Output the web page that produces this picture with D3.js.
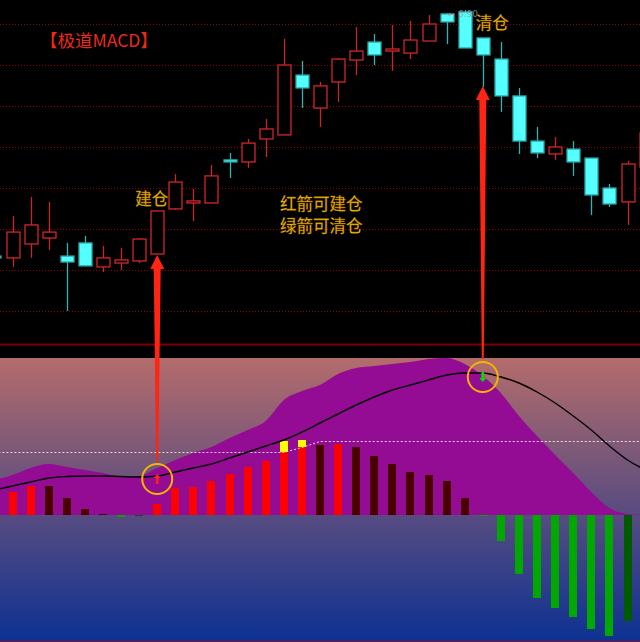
<!DOCTYPE html>
<html><head><meta charset="utf-8">
<script src="https://cdn.jsdelivr.net/npm/d3@7"></script>
<style>html,body{margin:0;padding:0;background:#000;overflow:hidden}svg{display:block}</style>
</head><body><svg id="c" width="640" height="642"></svg>
<script>
// ---- data (index -1 .. 35) ----
const barIndex = d3.range(-1, 36);
const openP  = [5.668,5.659,5.727,5.756,5.668,5.732,5.615,5.634,5.644,5.678,5.898,5.927,5.927,6.137,6.127,6.239,6.259,6.551,6.390,6.517,6.624,6.712,6.668,6.658,6.717,6.849,6.859,6.732,6.629,6.449,6.229,6.166,6.190,6.146,6.000,5.932,6.102];
const closeP = [5.659,5.785,5.820,5.785,5.639,5.620,5.659,5.649,5.751,5.888,6.029,5.937,6.059,6.127,6.219,6.288,6.600,6.488,6.498,6.629,6.668,6.649,6.678,6.722,6.800,6.810,6.683,6.649,6.449,6.229,6.171,6.200,6.127,5.966,5.922,6.117,6.268];
const highP  = [5.698,5.863,5.956,5.932,5.732,5.766,5.717,5.707,5.756,5.888,6.068,5.995,6.112,6.171,6.239,6.337,6.727,6.620,6.517,6.634,6.785,6.751,6.795,6.815,6.844,6.854,6.868,6.732,6.712,6.488,6.298,6.249,6.229,6.146,6.020,6.132,6.332];
const lowP   = [5.639,5.615,5.659,5.698,5.400,5.620,5.590,5.600,5.634,5.678,5.893,5.839,5.927,6.049,6.098,6.151,6.259,6.390,6.298,6.420,6.551,6.600,6.571,6.629,6.717,6.702,6.683,6.493,6.371,6.166,6.146,6.137,6.059,5.868,5.907,5.820,6.063];
const gridPrices = [6.8, 6.6, 6.4, 6.2, 6.0, 5.8, 5.6, 5.4];
const maxPriceLabel = "6.90";

const histValues = [0.021,0.023,0.029,0.029,0.017,0.006,0.001,-0.002,-0.001,0.011,0.027,0.028,0.034,0.041,0.048,0.054,0.074,0.075,0.070,0.071,0.068,0.059,0.051,0.043,0.040,0.034,0.017,-0.001,-0.026,-0.059,-0.083,-0.093,-0.102,-0.114,-0.121,-0.106,-0.095];
const thresholdLine = [0.063,0.063,0.063,0.063,0.063,0.063,0.063,0.063,0.063,0.063,0.063,0.063,0.063,0.063,0.063,0.063,0.063,0.068,0.074,0.074,0.074,0.074,0.074,0.074,0.074,0.074,0.074,0.074,0.074,0.074,0.074,0.074,0.074,0.074,0.074,0.074,0.074];
const signalLine = [0.025,0.029,0.033,0.037,0.0385,0.039,0.039,0.0385,0.038,0.039,0.043,0.047,0.051,0.057,0.063,0.069,0.075,0.083,0.092,0.101,0.110,0.118,0.125,0.130,0.135,0.140,0.142,0.142,0.138,0.132,0.123,0.112,0.099,0.085,0.069,0.055,0.045];
const purpleArea = [0.035,0.040,0.047,0.051,0.048,0.045,0.042,0.038,0.039,0.047,0.055,0.062,0.068,0.077,0.085,0.094,0.115,0.124,0.130,0.141,0.147,0.149,0.151,0.153,0.156,0.157,0.151,0.139,0.122,0.099,0.079,0.060,0.042,0.023,0.007,0.001,0.000];

const buyIndex = 8, sellIndex = 26;
const titleText = "【极道MACD】";
const buyText = "建仓", sellText = "清仓";
const noteLines = ["红箭可建仓", "绿箭可清仓"];

// ---- scales ----
const W = 640, H = 642;
const x = d3.scaleLinear().domain([0, 34]).range([12.5, 627.5]);
const yP = d3.scaleLinear().domain([5.4, 6.8]).range([311, 24]);
const yM = d3.scaleLinear().domain([0, 0.1]).range([515, 415]);
const topPanel = [0, 345], lowPanel = [358, 642];

const svg = d3.select("#c");
const defs = svg.append("defs");
const grad = defs.append("linearGradient").attr("id","bg").attr("x1",0).attr("x2",0).attr("y1",0).attr("y2",1);
grad.append("stop").attr("offset","0%").attr("stop-color","#b46c6b");
grad.append("stop").attr("offset","100%").attr("stop-color","#0c3192");
defs.append("clipPath").attr("id","clipTop").append("rect").attr("x",0).attr("y",0).attr("width",W).attr("height",topPanel[1]);
defs.append("clipPath").attr("id","clipLow").append("rect").attr("x",0).attr("y",lowPanel[0]).attr("width",W).attr("height",lowPanel[1]-lowPanel[0]);

svg.append("rect").attr("width",W).attr("height",H).attr("fill","#000");

// ---- top panel ----
const topG = svg.append("g").attr("clip-path","url(#clipTop)");
topG.selectAll("line.grid").data(gridPrices).join("line")
  .attr("x1",0).attr("x2",W).attr("y1",d=>Math.round(yP(d))+0.5).attr("y2",d=>Math.round(yP(d))+0.5)
  .attr("stroke","#9a0000").attr("stroke-dasharray","1,2");

const candles = barIndex.map((i,k)=>({i, o:openP[k], c:closeP[k], h:highP[k], l:lowP[k]}));
const up = d => d.c >= d.o;
const cg = topG.selectAll("g.candle").data(candles).join("g");
cg.append("line")
  .attr("x1",d=>Math.round(x(d.i))+0.5).attr("x2",d=>Math.round(x(d.i))+0.5)
  .attr("y1",d=>yP(d.h)).attr("y2",d=>yP(d.l))
  .attr("stroke",d=>up(d)?"#c8262a":"#2fb3b3").attr("stroke-width",1.3);
cg.append("rect")
  .attr("x",d=>Math.round(x(d.i))-6)
  .attr("width",13)
  .attr("y",d=>yP(Math.max(d.o,d.c)))
  .attr("height",d=>Math.max(1.5, Math.abs(yP(d.o)-yP(d.c))))
  .attr("fill",d=>up(d)?"#000":"#55ffff")
  .attr("stroke",d=>up(d)?"#d2262a":"#2aa8a8").attr("stroke-width",1.3);

// max price marker
svg.append("text").attr("x", x(24)+1).attr("y", yP(highP[26])+7)
  .attr("font-family","DejaVu Sans, sans-serif").attr("font-size",9).attr("fill","#9a9a9a").attr("opacity",0.8)
  .text("← " + maxPriceLabel);

// separator line
svg.append("rect").attr("x",0).attr("y",343.5).attr("width",W).attr("height",2).attr("fill","#7c0000");

// ---- lower panel ----
const lowG = svg.append("g").attr("clip-path","url(#clipLow)");
lowG.append("rect").attr("x",0).attr("y",lowPanel[0]).attr("width",W).attr("height",lowPanel[1]-lowPanel[0]).attr("fill","url(#bg)");

const pts = barIndex.map((i,k)=>({i, area:purpleArea[k], sig:signalLine[k], thr:thresholdLine[k], h:histValues[k], prev: k>0?histValues[k-1]:histValues[k]}));

lowG.append("path").datum(pts)
  .attr("d", d3.area().x(d=>x(d.i)).y0(yM(0)).y1(d=>yM(d.area)).curve(d3.curveMonotoneX))
  .attr("fill","#940b94");

function barColor(d){
  if (d.h >= 0) return d.h > d.prev ? "#ff0000" : "#4a0000";
  return d.h < d.prev ? "#00a800" : "#005a00";
}
lowG.selectAll("rect.bar").data(pts).join("rect")
  .attr("x",d=>Math.round(x(d.i))-4).attr("width",8)
  .attr("y",d=>d.h>=0 ? yM(d.h) : yM(0))
  .attr("height",d=>Math.max(1, Math.abs(yM(d.h)-yM(0))))
  .attr("fill",barColor);
lowG.selectAll("rect.yel").data(pts.filter(d=>d.h>d.thr)).join("rect")
  .attr("x",d=>Math.round(x(d.i))-4).attr("width",8)
  .attr("y",d=>yM(d.h)).attr("height",d=>yM(d.thr)-yM(d.h))
  .attr("fill","#ffff00");

lowG.append("path").datum(pts)
  .attr("d", d3.line().x(d=>x(d.i)).y(d=>Math.round(yM(d.thr))+0.5))
  .attr("fill","none").attr("stroke","#e8dce8").attr("stroke-width",1).attr("stroke-dasharray","2,2");

lowG.append("path").datum(pts)
  .attr("d", d3.line().x(d=>x(d.i)).y(d=>yM(d.sig)).curve(d3.curveMonotoneX))
  .attr("fill","none").attr("stroke","#000").attr("stroke-width",1.4);

// bottom border
svg.append("rect").attr("x",0).attr("y",641).attr("width",W).attr("height",1).attr("fill","#8a1030");

// ---- signals ----
const R = 15;
function sigCircle(i, dy){ return {cx: x(i), cy: yM(signalLine[i+1]) + dy}; }
const buyC = sigCircle(buyIndex, 3), sellC = sigCircle(sellIndex, 4);

function bigArrow(cx, tipY, botY){
  const p = d3.path();
  p.moveTo(cx, tipY);
  p.lineTo(cx+7, tipY+14);
  p.lineTo(cx+3.5, tipY+14);
  p.lineTo(cx+1, botY);
  p.lineTo(cx-1, botY);
  p.lineTo(cx-3.5, tipY+14);
  p.lineTo(cx-7, tipY+14);
  p.closePath();
  return p.toString();
}
svg.append("path").attr("d", bigArrow(buyC.cx, yP(lowP[buyIndex+1])+1, buyC.cy-R-3)).attr("fill","#ff2414");
svg.append("path").attr("d", bigArrow(sellC.cx, yP(lowP[sellIndex+1])-1, sellC.cy-R-3)).attr("fill","#ff2414");

[buyC, sellC].forEach(c=>{
  svg.append("circle").attr("cx",c.cx).attr("cy",c.cy).attr("r",R)
    .attr("fill","none").attr("stroke","#f4b400").attr("stroke-width",2);
});
// small arrows
svg.append("path").attr("d",`M${buyC.cx},${buyC.cy-5} l3.5,4 h-2.2 v6 h-2.6 v-6 h-2.2 z`).attr("fill","#ff2020");
svg.append("path").attr("d",`M${sellC.cx},${sellC.cy+5} l3.5,-4 h-2.2 v-6 h-2.6 v6 h-2.2 z`).attr("fill","#00e000");

// ---- texts ----
const cjk = "'Noto Sans CJK SC', sans-serif";
svg.append("text").attr("x",40).attr("y",47).attr("font-family",cjk).attr("font-size",17.5)
  .attr("fill","#ec2a1c").text(titleText);
svg.append("text").attr("x",x(buyIndex)-22).attr("y",205).attr("font-family",cjk).attr("font-size",16.5)
  .attr("fill","#f2c200").attr("stroke","#a06000").attr("stroke-width",0.3).text(buyText);
svg.append("text").attr("x",x(sellIndex)-7).attr("y",29).attr("font-family",cjk).attr("font-size",16.5)
  .attr("fill","#f2c200").attr("stroke","#a06000").attr("stroke-width",0.3).text(sellText);
svg.selectAll("text.note").data(noteLines).join("text")
  .attr("x",280).attr("y",(d,k)=>210+k*22).attr("font-family",cjk).attr("font-size",16.5)
  .attr("fill","#f2c200").attr("stroke","#a06000").attr("stroke-width",0.3).text(d=>d);
</script>
</body></html>
